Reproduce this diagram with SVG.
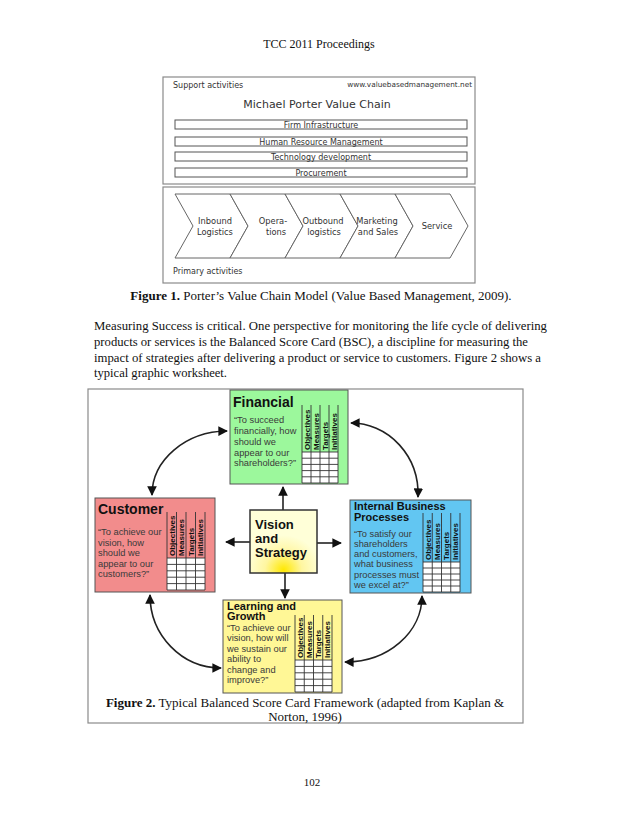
<svg xmlns="http://www.w3.org/2000/svg" width="638" height="826" viewBox="0 0 638 826">
<defs>
<style>
.serif{font-family:"Liberation Serif","Times New Roman",serif;fill:#111}
.vd{font-family:"DejaVu Sans",Verdana,sans-serif;fill:#333}
.frame{fill:#fff;stroke:#8a8a8a;stroke-width:1.2}
.bar{fill:#fff;stroke:#555;stroke-width:1}
.chev{fill:#fff;stroke:#666;stroke-width:1}
.box{stroke:#555;stroke-width:1}
.ttl{font-family:"Liberation Sans",Arial,sans-serif;font-weight:bold;fill:#111}
.q{font-family:"Liberation Sans",Arial,sans-serif;font-size:9.3px;fill:#3a3a3a}
.hd{font-family:"Liberation Sans",Arial,sans-serif;font-weight:bold;font-size:8px;fill:#111}
.gl{stroke:#333;stroke-width:0.9;fill:none}
.cell{fill:#fff;stroke:none}
.conn{fill:none;stroke:#222;stroke-width:1.6}
</style>
<marker id="ah" viewBox="0 0 10 10" refX="9" refY="5" markerWidth="6" markerHeight="6" markerUnits="strokeWidth" orient="auto-start-reverse">
<path d="M0,0 L10,5 L0,10 z" fill="#111"/>
</marker>
<radialGradient id="vg" cx="0.5" cy="0.95" r="0.55">
<stop offset="0" stop-color="#ffe800"/>
<stop offset="0.5" stop-color="#fff6a0"/>
<stop offset="1" stop-color="#ffffd8"/>
</radialGradient>
</defs>
<rect width="638" height="826" fill="#fff"/>
<text class="serif" x="319" y="48" font-size="12" text-anchor="middle">TCC 2011 Proceedings</text>

<g id="porter-support">
<rect class="frame" x="163" y="77" width="312" height="107"/>
<text class="vd" x="173" y="88" font-size="8">Support activities</text>
<text class="vd" x="472" y="87" font-size="7.3" text-anchor="end">www.valuebasedmanagement.net</text>
<text class="vd" x="317" y="108" font-size="11" text-anchor="middle">Michael Porter Value Chain</text>
<g id="firm-infrastructure"><rect class="bar" x="175" y="120" width="292" height="9"/><text class="vd" x="321" y="127.5" font-size="8" text-anchor="middle">Firm Infrastructure</text></g>
<g id="hrm"><rect class="bar" x="175" y="137" width="292" height="9"/><text class="vd" x="321" y="144.5" font-size="8" text-anchor="middle">Human Resource Management</text></g>
<g id="tech"><rect class="bar" x="175" y="152" width="292" height="9"/><text class="vd" x="321" y="159.5" font-size="8" text-anchor="middle">Technology development</text></g>
<g id="procurement"><rect class="bar" x="175" y="168" width="292" height="9"/><text class="vd" x="321" y="175.5" font-size="8" text-anchor="middle">Procurement</text></g>
</g>

<g id="porter-primary">
<rect class="frame" x="163" y="187" width="312" height="96"/>
<g id="inbound"><polygon class="chev" points="175,194 230,194 248,226 230,258 175,258 193,226"/><text class="vd" x="215" y="224" font-size="8.3" text-anchor="middle">Inbound</text><text class="vd" x="215" y="235" font-size="8.3" text-anchor="middle">Logistics</text></g>
<g id="operations"><polygon class="chev" points="230,194 285,194 303,226 285,258 230,258 248,226"/><text class="vd" x="273" y="224" font-size="8.3" text-anchor="middle">Opera-</text><text class="vd" x="276" y="235" font-size="8.3" text-anchor="middle">tions</text></g>
<g id="outbound"><polygon class="chev" points="285,194 340,194 358,226 340,258 285,258 303,226"/><text class="vd" x="323" y="224" font-size="8.3" text-anchor="middle">Outbound</text><text class="vd" x="324" y="235" font-size="8.3" text-anchor="middle">logistics</text></g>
<g id="marketing"><polygon class="chev" points="340,194 395,194 413,226 395,258 340,258 358,226"/><text class="vd" x="377" y="224" font-size="8.3" text-anchor="middle">Marketing</text><text class="vd" x="378" y="235" font-size="8.3" text-anchor="middle">and Sales</text></g>
<g id="service"><polygon class="chev" points="395,194 450,194 468,226 450,258 395,258 413,226"/><text class="vd" x="437" y="229" font-size="8.3" text-anchor="middle">Service</text></g>
<text class="vd" x="173" y="274" font-size="8">Primary activities</text>
</g>

<text class="serif" x="321" y="300" font-size="13" text-anchor="middle"><tspan font-weight="bold">Figure 1.</tspan> Porter’s Value Chain Model (Value Based Management, 2009).</text>

<g id="paragraph" class="serif" font-size="13.5">
<text x="94" y="330" textLength="453" lengthAdjust="spacingAndGlyphs">Measuring Success is critical. One perspective for monitoring the life cycle of delivering</text>
<text x="94" y="346" textLength="434" lengthAdjust="spacingAndGlyphs">products or services is the Balanced Score Card (BSC), a discipline for measuring the</text>
<text x="94" y="361.5" textLength="447" lengthAdjust="spacingAndGlyphs">impact of strategies after delivering a product or service to customers.  Figure 2 shows a</text>
<text x="94" y="377" textLength="133" lengthAdjust="spacingAndGlyphs">typical graphic worksheet.</text>
</g>

<rect class="frame" x="88" y="389" width="435" height="334"/>

<g id="connectors">
<line class="conn" x1="283" y1="510" x2="283" y2="487" marker-end="url(#ah)"/>
<line class="conn" x1="285" y1="573" x2="285" y2="598" marker-end="url(#ah)"/>
<line class="conn" x1="250" y1="542" x2="226" y2="542" marker-end="url(#ah)"/>
<line class="conn" x1="317" y1="543" x2="341" y2="543" marker-end="url(#ah)"/>
<path class="conn" d="M152,495 A76,64 0 0 1 227,431" marker-start="url(#ah)" marker-end="url(#ah)"/>
<path class="conn" d="M351,423 A67,71 0 0 1 418,497" marker-start="url(#ah)" marker-end="url(#ah)"/>
<path class="conn" d="M150,595 A71,73 0 0 0 221,668" marker-start="url(#ah)" marker-end="url(#ah)"/>
<path class="conn" d="M422,596 A76,66 0 0 1 345,662" marker-start="url(#ah)" marker-end="url(#ah)"/>
</g>

<g id="financial">
<rect class="box" x="230" y="390" width="118" height="94" fill="#9cf89c"/>
<text class="ttl" x="233" y="407" font-size="14">Financial</text>
<text class="q" x="234" y="422.5">“To succeed</text>
<text class="q" x="234" y="433.5">financially, how</text>
<text class="q" x="234" y="444.5">should we</text>
<text class="q" x="234" y="455.5">appear to our</text>
<text class="q" x="234" y="466">shareholders?”</text>
<rect class="cell" x="302" y="452" width="36" height="31"/>
<path class="gl" d="M302,405V483M311,405V483M320,405V483M329,405V483M338,405V483M302,452H338M302,458.2H338M302,464.4H338M302,470.6H338M302,476.8H338M302,483H338"/>
<text class="hd" transform="translate(309.5,450) rotate(-90)">Objectives</text>
<text class="hd" transform="translate(318.5,450) rotate(-90)">Measures</text>
<text class="hd" transform="translate(327.5,450) rotate(-90)">Targets</text>
<text class="hd" transform="translate(336.5,450) rotate(-90)">Initiatives</text>
</g>

<g id="customer">
<rect class="box" x="95" y="498" width="120" height="94" fill="#f28c8c"/>
<text class="ttl" x="98" y="514" font-size="14">Customer</text>
<text class="q" x="98" y="535">“To achieve our</text>
<text class="q" x="98" y="545.5">vision, how</text>
<text class="q" x="98" y="556">should we</text>
<text class="q" x="98" y="566.5">appear to our</text>
<text class="q" x="98" y="577">customers?”</text>
<rect class="cell" x="167" y="558" width="38" height="32"/>
<path class="gl" d="M167,512V590M176.5,512V590M186,512V590M195.5,512V590M205,512V590M167,558H205M167,564.4H205M167,570.8H205M167,577.2H205M167,583.6H205M167,590H205"/>
<text class="hd" transform="translate(174.8,556) rotate(-90)">Objectives</text>
<text class="hd" transform="translate(184.3,556) rotate(-90)">Measures</text>
<text class="hd" transform="translate(193.8,556) rotate(-90)">Targets</text>
<text class="hd" transform="translate(203.3,556) rotate(-90)">Initiatives</text>
</g>

<g id="internal-business">
<rect class="box" x="350" y="500" width="121" height="93" fill="#62c6f2"/>
<text class="ttl" x="354" y="510" font-size="11">Internal Business</text>
<text class="ttl" x="354" y="521" font-size="11">Processes</text>
<text class="q" x="354" y="536.5" font-size="9">“To satisfy our</text>
<text class="q" x="354" y="546.5" font-size="9">shareholders</text>
<text class="q" x="354" y="557" font-size="9">and customers,</text>
<text class="q" x="354" y="567" font-size="9">what business</text>
<text class="q" x="354" y="577.5" font-size="9">processes must</text>
<text class="q" x="354" y="587.5" font-size="9">we excel at?”</text>
<rect class="cell" x="423" y="562" width="37" height="30"/>
<path class="gl" d="M423,513V592M432.25,513V592M441.5,513V592M450.75,513V592M460,513V592M423,562H460M423,568H460M423,574H460M423,580H460M423,586H460M423,592H460"/>
<text class="hd" transform="translate(430.5,560) rotate(-90)">Objectives</text>
<text class="hd" transform="translate(439.75,560) rotate(-90)">Measures</text>
<text class="hd" transform="translate(449,560) rotate(-90)">Targets</text>
<text class="hd" transform="translate(458.25,560) rotate(-90)">Initiatives</text>
</g>

<g id="vision">
<rect x="250" y="510" width="67" height="63" fill="url(#vg)" stroke="#333" stroke-width="1.5"/>
<text class="ttl" x="255" y="529" font-size="13">Vision</text>
<text class="ttl" x="255" y="543" font-size="13">and</text>
<text class="ttl" x="255" y="557" font-size="13">Strategy</text>
</g>

<g id="learning">
<rect class="box" x="223" y="600" width="119" height="93" fill="#fff796"/>
<text class="ttl" x="227" y="609.5" font-size="11">Learning and</text>
<text class="ttl" x="227" y="620" font-size="11">Growth</text>
<text class="q" x="227" y="630.5" font-size="9">“To achieve our</text>
<text class="q" x="227" y="641" font-size="9">vision, how will</text>
<text class="q" x="227" y="651.5" font-size="9">we sustain our</text>
<text class="q" x="227" y="662" font-size="9">ability to</text>
<text class="q" x="227" y="672.5" font-size="9">change and</text>
<text class="q" x="227" y="683" font-size="9">improve?”</text>
<rect class="cell" x="295" y="660" width="37" height="32"/>
<path class="gl" d="M295,615V692M304.25,615V692M313.5,615V692M322.75,615V692M332,615V692M295,660H332M295,666.4H332M295,672.8H332M295,679.2H332M295,685.6H332M295,692H332"/>
<text class="hd" transform="translate(302.5,658) rotate(-90)">Objectives</text>
<text class="hd" transform="translate(311.75,658) rotate(-90)">Measures</text>
<text class="hd" transform="translate(321,658) rotate(-90)">Targets</text>
<text class="hd" transform="translate(330.25,658) rotate(-90)">Initiatives</text>
</g>

<text class="serif" x="305" y="707" font-size="13" text-anchor="middle"><tspan font-weight="bold">Figure 2.</tspan> Typical Balanced Score Card Framework (adapted from Kaplan &amp;</text>
<text class="serif" x="305" y="721" font-size="13" text-anchor="middle">Norton, 1996)</text>

<text class="serif" x="312" y="786" font-size="11" text-anchor="middle">102</text>
</svg>
